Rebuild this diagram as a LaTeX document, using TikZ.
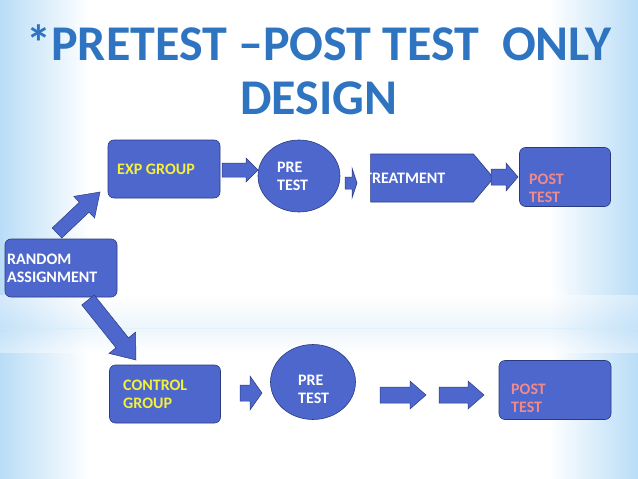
\documentclass[tikz,border=0pt]{standalone}
\usepackage{fontspec}
\setmainfont{Carlito}
\usetikzlibrary{shapes.geometric,shapes.symbols}
\definecolor{bfill}{HTML}{4D67CC}
\definecolor{bline}{HTML}{2B3A80}
\definecolor{ttl}{HTML}{2E74C0}
\definecolor{yel}{HTML}{F5F03A}
\definecolor{pnk}{HTML}{F08A8A}
\definecolor{bgb}{HTML}{A8D4F5}
\pgfdeclarehorizontalshading{bgsh}{100bp}{color(0bp)=(bgb); color(25bp)=(bgb!80!white); color(32bp)=(white); color(68bp)=(white); color(75bp)=(bgb!80!white); color(100bp)=(bgb)}
\tikzset{
 box/.style={draw=bline,fill=bfill,rounded corners=6pt,inner sep=0pt,line width=0.6pt},
 oval/.style={draw=bline,fill=bfill,ellipse,inner sep=0pt,line width=0.6pt},
 lbl/.style={font=\fontsize{16}{18}\selectfont\bfseries,align=left,anchor=west,inner sep=0pt},
 barrow/.style={draw=bline,fill=bfill,line width=0.5pt,line join=miter}
}
\newcommand\harr[6]{\draw[barrow] (#1,#3-#4) -- (#2-#6,#3-#4) -- (#2-#6,#3-#5) -- (#2,#3) -- (#2-#6,#3+#5) -- (#2-#6,#3+#4) -- (#1,#3+#4) -- cycle;}
\begin{document}
\begin{tikzpicture}[x=1pt,y=-1pt]
\useasboundingbox (0,0) rectangle (638,479);
\shade[shading=bgsh] (0,0) rectangle (638,479);
\shade[top color=white,bottom color=bgb!50,opacity=0.4,draw=none] (0,295) rectangle (638,328);
\shade[top color=bgb!50,bottom color=white,opacity=0.4,draw=none] (0,328) rectangle (638,352);
\node[font=\fontsize{50}{54}\selectfont\bfseries,text=ttl,align=center,inner sep=0pt] (title) at (319,70) {*PRETEST –POST TEST\ \ ONLY\\DESIGN};
% nodes
\node[box,minimum width=112pt,minimum height=58pt] (rand) at (61,268) {};
\node[lbl,text=white] (randt) at (7,268) {RANDOM\\ASSIGNMENT};
\node[box,minimum width=112pt,minimum height=58pt] (exp) at (164,169) {};
\node[lbl,text=yel] (expt) at (117,169) {EXP GROUP};
\node[oval,minimum width=82pt,minimum height=72pt] (pre1) at (299,176) {};
\node[lbl,text=white] (pre1t) at (277,176) {PRE\\TEST};
\node[draw=bline,fill=bfill,line width=0.6pt,signal,signal to=east,signal pointer angle=100,minimum width=123pt,minimum height=48pt,inner sep=0pt] (treat) at (422,178) {};
\node[lbl,text=white] (treatt) at (364,178) {TREATMENT};
\node[box,minimum width=91pt,minimum height=59pt] (post1) at (565,177) {};
\node[lbl,text=pnk] (post1t) at (529,188) {POST\\TEST};
\node[box,minimum width=111pt,minimum height=58pt] (ctrl) at (165,394) {};
\node[lbl,text=yel] (ctrlt) at (123,394) {CONTROL\\GROUP};
\node[oval,minimum width=85pt,minimum height=75pt] (pre2) at (313,382) {};
\node[lbl,text=white] (pre2t) at (298,389) {PRE\\TEST};
\node[box,minimum width=112pt,minimum height=59pt] (post2) at (555,390) {};
\node[lbl,text=pnk] (post2t) at (511,398) {POST\\TEST};
% block arrows
\draw[barrow] (61.8,238) -- (89,212.2) -- (94.6,218) -- (100,192) -- (73.8,196.4) -- (79.4,202.2) -- (52.2,228) -- cycle;
\draw[barrow] (94.2,295) -- (128.5,337.8) -- (135.5,332.2) -- (136,360) -- (109,353.4) -- (116,347.8) -- (81.8,305) -- cycle;
\harr{222}{258}{170}{7}{12}{12}
\harr{345}{357}{183}{6}{15}{5}
\harr{491}{518}{177}{8}{14}{12}
\harr{240}{262}{393}{8}{17}{12}
\harr{380}{426}{395}{8}{14}{16}
\harr{439}{484}{395}{8}{14}{16}
\end{tikzpicture}
\end{document}
